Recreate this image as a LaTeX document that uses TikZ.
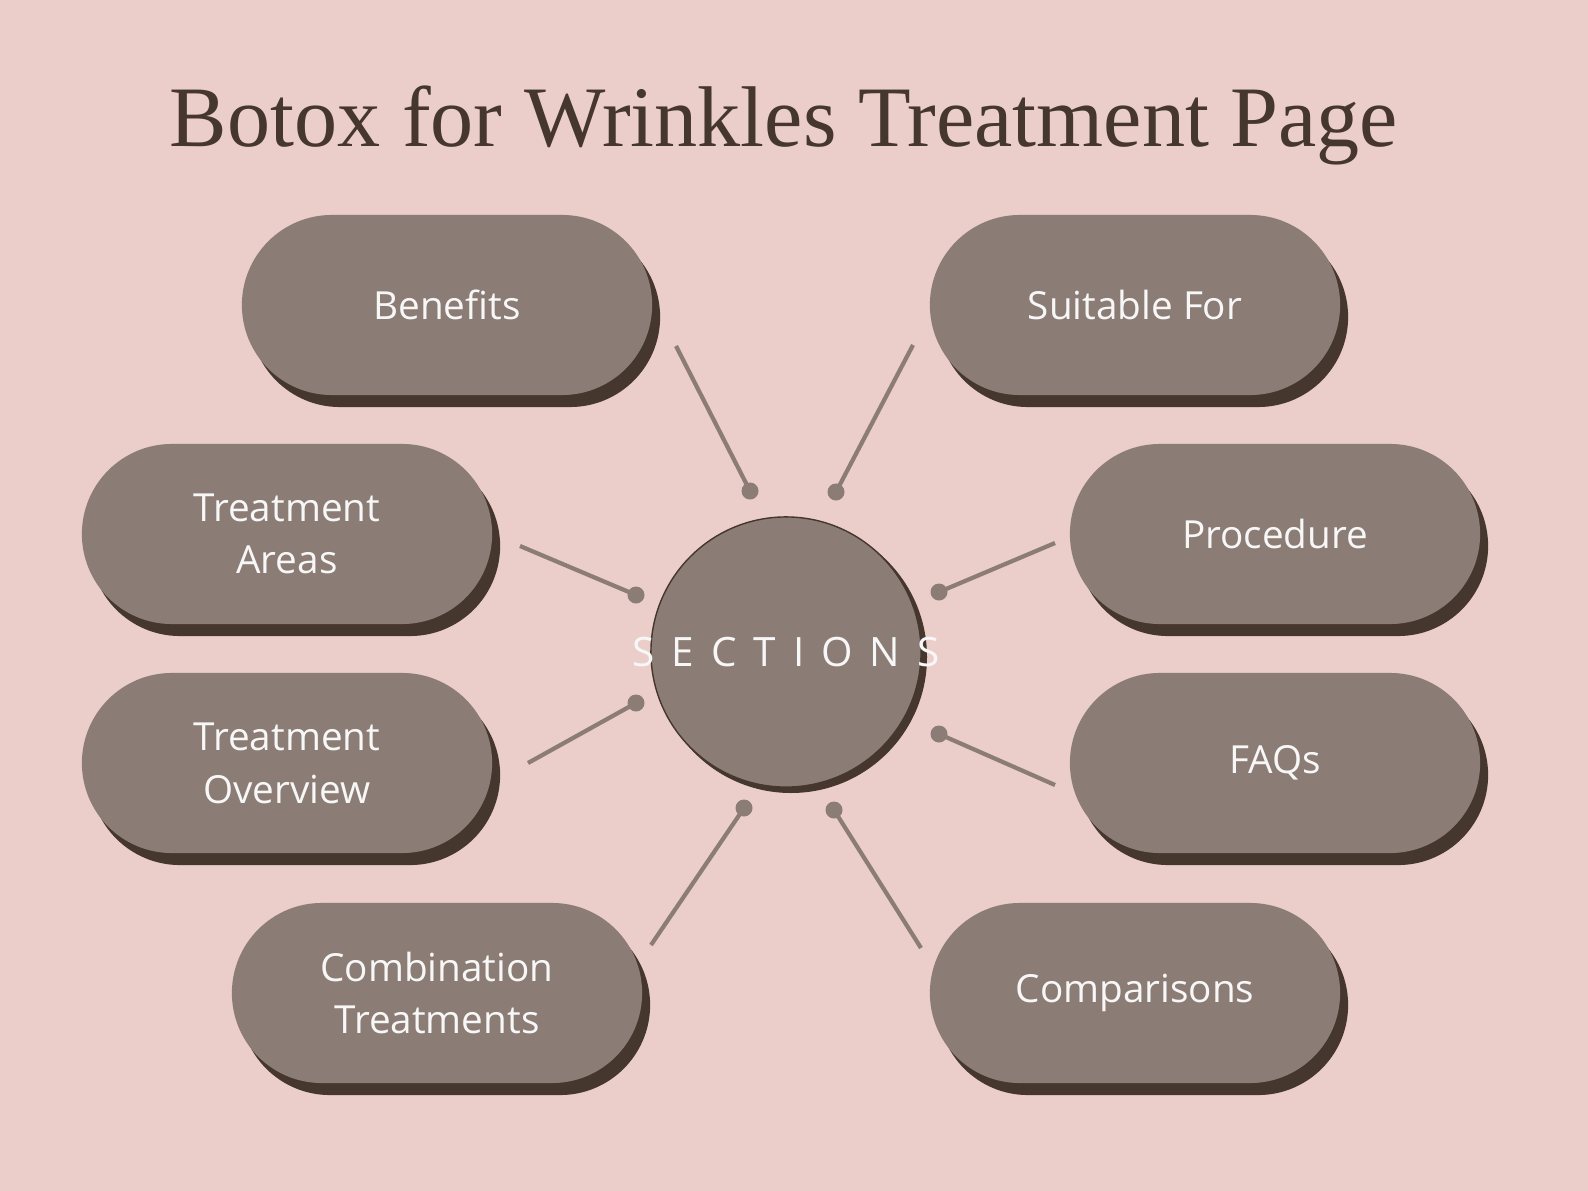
\documentclass[tikz,border=0pt]{standalone}
\usepackage{fontspec}
\setmainfont{Liberation Serif}
\newfontfamily\labelfont{Open Sans}
\definecolor{bgpink}{HTML}{EBCDC9}
\definecolor{pillgray}{HTML}{8B7D75}
\definecolor{pilldark}{HTML}{45362E}

\tikzset{
  pill/.style={rectangle, rounded corners=0.9cm, minimum width=4.1cm, minimum height=1.8cm,
    fill=pillgray, text=white!94!pillgray, align=center, font=\labelfont\fontsize{11}{15}\selectfont},
  pillshadow/.style={pill, fill=pilldark},
  link/.style={draw=pillgray, line width=1.2pt},
  dot/.style={circle, fill=pillgray, inner sep=0pt, minimum size=0.17cm}
}

\begin{document}
\begin{tikzpicture}[x=0.01cm, y=-0.01cm]
        \useasboundingbox (0, 0) rectangle (1588, 1191);
        \fill[bgpink] (0, 0) rectangle (1588, 1191);
        \node[text=pilldark, font=\fontsize{24.5}{28}\selectfont] (title) at (784, 125) {Botox for Wrinkles Treatment Page};
        % section pills
        \foreach \n/\x/\y/\t in {benefits/447/305/{Benefits}, suitable/1135/305/{Suitable For},
            areas/287/534/{Treatment\\Areas}, procedure/1275/534/{Procedure},
            overview/287/763/{Treatment\\Overview}, faqs/1275/763/{FAQs},
            combination/437/993/{Combination\\Treatments}, comparisons/1135/993/{Comparisons}} {
          \node[pillshadow] at (\x+8, \y+12) {};
          \node[pill] (\n) at (\x, \y) {\t};
        }
        % centre circle
        \fill[pilldark] (791, 657) circle (136);
        \node[circle, draw=pilldark, fill=pillgray, minimum size=2.7cm, inner sep=0pt,
          text=white!94!pillgray, font=\labelfont\fontsize{11.5}{14}\selectfont] (sections) at (786, 652)
          {\makebox[0pt]{S\hspace{0.42em}E\hspace{0.42em}C\hspace{0.42em}T\hspace{0.42em}I\hspace{0.42em}O\hspace{0.42em}N\hspace{0.42em}S}};
        % connectors
        \coordinate (b1) at (676, 346); \node[dot] (b2) at (750, 491) {};
        \coordinate (s1) at (913, 345); \node[dot] (s2) at (836, 492) {};
        \coordinate (a1) at (520, 546); \node[dot] (a2) at (636, 595) {};
        \coordinate (p1) at (1055, 543); \node[dot] (p2) at (939, 592) {};
        \coordinate (o1) at (528, 763); \node[dot] (o2) at (636, 703) {};
        \coordinate (f1) at (1055, 785); \node[dot] (f2) at (939, 734) {};
        \coordinate (c1) at (651, 945); \node[dot] (c2) at (744, 808) {};
        \coordinate (m1) at (921, 948); \node[dot] (m2) at (834, 810) {};
        \foreach \a/\b in {b1/b2, s1/s2, a1/a2, p1/p2, o1/o2, f1/f2, c1/c2, m1/m2}
          \draw[link] (\a) -- (\b.center);
\end{tikzpicture}
\end{document}
